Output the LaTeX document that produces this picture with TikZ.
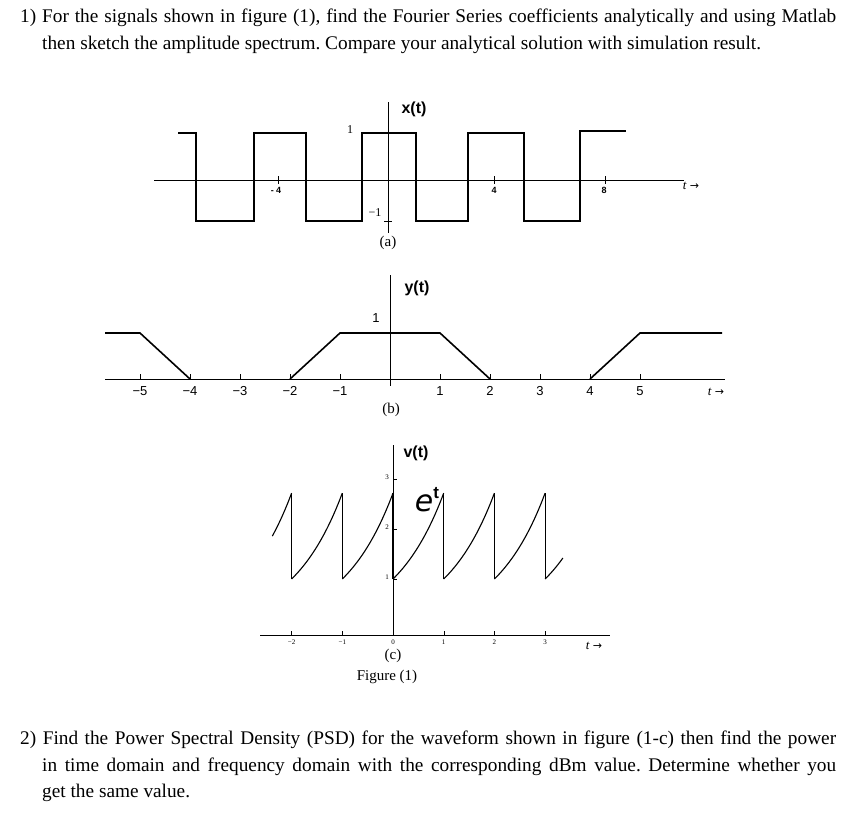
\documentclass[tikz,border=0pt]{standalone}
\usepackage{fontspec}
\setmainfont{Liberation Serif}
\newfontfamily\lsans{Liberation Sans}
\newfontfamily\dsans{DejaVu Sans}
\frenchspacing
\begin{document}
\begin{tikzpicture}[x=1pt,y=-1pt,
  txt/.style={anchor=west,inner sep=0pt,font=\fontsize{19.3}{22}\selectfont},
  sig/.style={line width=1.6pt,line join=miter},
  ax/.style={line width=0.6pt},
  lab/.style={font=\lsans\bfseries\fontsize{16}{18}\selectfont,inner sep=0pt},
  tk/.style={font=\lsans\fontsize{13}{14}\selectfont,inner sep=0pt},
  tiny/.style={font=\fontsize{7}{8}\selectfont,inner sep=0pt},
  tarrow/.style={font=\itshape\fontsize{13}{14}\selectfont,inner sep=0pt},
  captxt/.style={font=\fontsize{15}{17}\selectfont,inner sep=0pt}]
\useasboundingbox (0,0) rectangle (846,831);
% text
\node[txt] (l1) at (20,18) {\makebox[816pt][s]{1) For the signals shown in figure (1), find the Fourier Series coefficients analytically and using Matlab}};
\node[txt] (l2) at (42,45) {then sketch the amplitude spectrum. Compare your analytical solution with simulation result.};
\node[txt] (m1) at (20,740) {\makebox[816pt][s]{2) Find the Power Spectral Density (PSD) for the waveform shown in figure (1-c) then find the power}};
\node[txt] (m2) at (42,767) {\makebox[794pt][s]{in time domain and frequency domain with the corresponding dBm value. Determine whether you}};
\node[txt] (m3) at (42,793) {get the same value.};
% (a)
\coordinate (a1) at (154,180); \coordinate (a2) at (684,180);
\coordinate (a3) at (388,102); \coordinate (a4) at (388,233);
\draw[ax] (a1) -- (a2); \draw[ax] (a3) -- (a4);
\draw[sig] (178,133) -- (196,133) -- (196,221) -- (254,221) -- (254,133) -- (306,133) -- (306,221) -- (362,221) -- (362,133) -- (416,133) -- (416,221) -- (468,221) -- (468,133) -- (524,133) -- (524,221) -- (580,221) -- (580,131) -- (626,131);
\foreach \xx in {278,494,605} \draw[ax] (\xx,176) -- (\xx,184);
\draw[ax] (384,221) -- (392,221);
\node[tiny,font=\lsans\bfseries\fontsize{9}{10}\selectfont] (tm4) at (276,190) {- 4};
\node[tiny,font=\lsans\bfseries\fontsize{9}{10}\selectfont] (t4) at (494,190) {4};
\node[tiny,font=\lsans\bfseries\fontsize{9}{10}\selectfont] (t8) at (604,190) {8};
\node[captxt,font=\fontsize{12}{13}\selectfont] (one) at (350,130) {1};
\node[captxt,font=\fontsize{12}{13}\selectfont] (mone) at (375,213) {\textminus1};
\node[lab] (xt) at (414,109) {x(t)};
\node[tarrow] (ta) at (691,186) {t {\dsans\upshape\fontsize{11}{12}\selectfont →}};
\node[captxt] (ca) at (388,243) {(a)};
% (b)
\coordinate (b1) at (105,379); \coordinate (b2) at (725,379);
\coordinate (b3) at (390,275); \coordinate (b4) at (390,386);
\draw[ax] (b1) -- (b2); \draw[ax] (b3) -- (b4);
\draw[sig] (105,333) -- (140,333) -- (190,379);
\draw[sig] (290,379) -- (340,333) -- (440,333) -- (490,379);
\draw[sig] (590,379) -- (640,333) -- (722,333);
\foreach \v/\s in {-5/\textminus5,-4/\textminus4,-3/\textminus3,-2/\textminus2,-1/\textminus1,1/1,2/2,3/3,4/4,5/5} {
  \draw[ax] ({390+50*\v},374) -- ({390+50*\v},379);
  \node[tk] at ({390+50*\v},391) {\s};}
\node[tk] (bone) at (376,318) {1};
\node[lab] (yt) at (417,288) {y(t)};
\node[tarrow] (tb) at (716,392) {t {\dsans\upshape\fontsize{11}{12}\selectfont →}};
\node[captxt] (cb) at (391,410) {(b)};
% (c)
\coordinate (c1) at (260,635); \coordinate (c2) at (610,635);
\coordinate (c3) at (393,445); \coordinate (c4) at (393,635);
\draw[line width=0.4pt] (c1) -- (c2); \draw[line width=0.4pt] (c3) -- (c4);
\foreach \v/\s in {-2/\textminus2,-1/\textminus1,0/0,1/1,2/2,3/3} {
  \draw[line width=0.4pt] ({393+50.7*\v},631) -- ({393+50.7*\v},635);
  \node[tiny] at ({393+50.7*\v},642) {\s};}
\foreach \v in {1,2,3} {
  \draw[line width=0.4pt] (393,{629-50*\v}) -- (397,{629-50*\v});
  \node[tiny] at (387,{627-50*\v}) {\v};}
\draw[line width=1.1pt,domain=-2.38:-2,samples=15] plot ({393+50.7*\x},{629-50*exp(\x+3)});
\foreach \k in {-2,-1,0,1,2} {
  \draw[line width=1.1pt] ({393+50.7*\k},{629-50*exp(1)}) -- ({393+50.7*\k},579);
  \draw[line width=1.1pt,domain=\k:\k+1,samples=25] plot ({393+50.7*\x},{629-50*exp(\x-\k)});}
\draw[line width=1.1pt] ({393+50.7*3},{629-50*exp(1)}) -- ({393+50.7*3},579);
\draw[line width=1.1pt,domain=3:3.35,samples=10] plot ({393+50.7*\x},{629-50*exp(\x-3)});
\node[lab] (vt) at (416,453) {v(t)};
\node[inner sep=0pt,font=\dsans\itshape\fontsize{30}{32}\selectfont] (et) at (427,500) {e\raisebox{13pt}{\lsans\bfseries\upshape\fontsize{17}{18}\selectfont t}};
\node[tarrow] (tc) at (594,646) {t {\dsans\upshape\fontsize{11}{12}\selectfont →}};
\node[captxt] (cc) at (393,656) {(c)};
\node[captxt] (fig) at (387,677) {Figure (1)};
\end{tikzpicture}
\end{document}
